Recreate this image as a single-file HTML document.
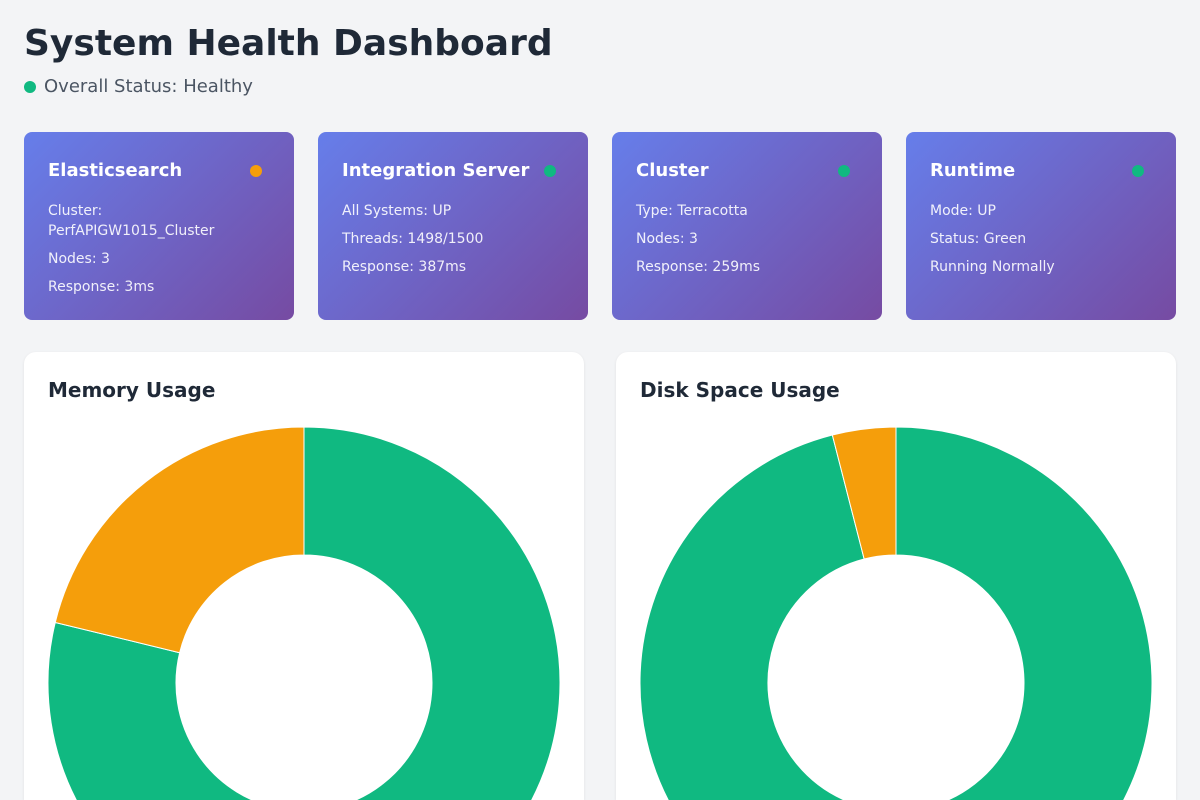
<!DOCTYPE html>
<html><head><meta charset="utf-8"><style>
*{box-sizing:border-box;margin:0;padding:0}
html,body{width:1200px;height:800px;overflow:hidden}
body{position:relative;background:#f3f4f6;font-family:"DejaVu Sans","Liberation Sans",sans-serif;color:#1f2937}
h1{position:absolute;left:24px;top:20px;font-size:36px;font-weight:bold;line-height:48px;color:#1f2937}
.status{position:absolute;left:24px;top:75px;font-size:18px;line-height:24px;color:#4b5563;display:flex;align-items:center}
.dot{width:12px;height:12px;border-radius:50%;display:inline-block}
.status .dot{margin-right:8px}
.card{position:absolute;top:132px;width:270px;height:188px;border-radius:8px;padding:25px 24px 24px;color:#fff;background:linear-gradient(135deg,#667eea,#764ba2)}
.hdr{display:flex;justify-content:space-between;align-items:center;padding-right:8px;height:27px;margin-bottom:17px}
.hdr b{font-size:18px}
.card p{font-size:14px;line-height:20px;margin-bottom:8px;color:rgba(255,255,255,.9)}
.chart{position:absolute;top:352px;width:560px;height:448px;overflow:hidden;background:#fff;border-radius:12px 12px 0 0;padding:24px;box-shadow:0 1px 3px rgba(0,0,0,.08)}
.chart h2{font-size:20px;line-height:28px;font-weight:bold;margin-bottom:23px}
.chart svg{display:block;overflow:hidden}
</style></head><body>
<h1>System Health Dashboard</h1>
<div class="status"><span class="dot" style="background:#10b981"></span>Overall Status: Healthy</div>

<div class="card" style="left:24px"><div class="hdr"><b>Elasticsearch</b><span class="dot" style="background:#f59e0b"></span></div><p>Cluster:<br>PerfAPIGW1015_Cluster</p><p>Nodes: 3</p><p>Response: 3ms</p></div>
<div class="card" style="left:318px"><div class="hdr"><b>Integration Server</b><span class="dot" style="background:#10b981"></span></div><p>All Systems: UP</p><p>Threads: 1498/1500</p><p>Response: 387ms</p></div>
<div class="card" style="left:612px"><div class="hdr"><b>Cluster</b><span class="dot" style="background:#10b981"></span></div><p>Type: Terracotta</p><p>Nodes: 3</p><p>Response: 259ms</p></div>
<div class="card" style="left:906px"><div class="hdr"><b>Runtime</b><span class="dot" style="background:#10b981"></span></div><p>Mode: UP</p><p>Status: Green</p><p>Running Normally</p></div>

<div class="chart" style="left:24px"><h2>Memory Usage</h2><svg id="mem" width="512" height="373"></svg></div>
<div class="chart" style="left:616px"><h2>Disk Space Usage</h2><svg id="disk" width="512" height="373"></svg></div>

<script>
const memoryLabels = ["Used", "Free"];
const memoryValues = [78.8, 21.2];
const diskLabels = ["Used", "Free"];
const diskValues = [96, 4];
const sliceColors = ["#10b981", "#f59e0b"];

function drawDonut(id, labels, values) {
  const svg = document.getElementById(id);
  const cx = 256, cy = 256, R = 256, r = 128;
  const total = values.reduce((a, b) => a + b, 0);
  let a0 = 0;
  values.forEach((v, i) => {
    const a1 = a0 + v / total * Math.PI * 2;
    const p = (rad, ang) => [cx + rad * Math.sin(ang), cy - rad * Math.cos(ang)];
    const large = (a1 - a0) > Math.PI ? 1 : 0;
    const [x0, y0] = p(R, a0), [x1, y1] = p(R, a1), [x2, y2] = p(r, a1), [x3, y3] = p(r, a0);
    const path = document.createElementNS("http://www.w3.org/2000/svg", "path");
    path.setAttribute("d", `M${x0},${y0} A${R},${R} 0 ${large} 1 ${x1},${y1} L${x2},${y2} A${r},${r} 0 ${large} 0 ${x3},${y3} Z`);
    path.setAttribute("fill", sliceColors[i]);
    path.setAttribute("stroke", "#fff");
    path.setAttribute("stroke-width", "1");
    
    
    svg.appendChild(path);
    a0 = a1;
  });
}
drawDonut("mem", memoryLabels, memoryValues);
drawDonut("disk", diskLabels, diskValues);
</script>
</body></html>
